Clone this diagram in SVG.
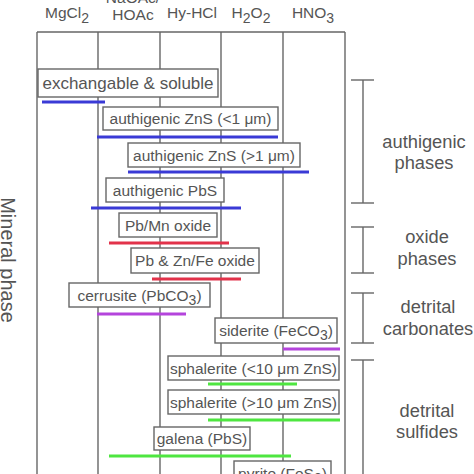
<svg xmlns="http://www.w3.org/2000/svg" width="474" height="474" viewBox="0 0 474 474">
<style>
text{font-family:"Liberation Sans",Arial,sans-serif;fill:#555}
.hd{font-size:15.5px;text-anchor:middle}
.bx rect{fill:#fff;stroke:#666;stroke-width:1.4}
.bx text{font-size:15.5px;text-anchor:middle}
.grid line,.br line{stroke:#666;stroke-width:1.4}
.rl{font-size:18.3px;text-anchor:middle}
.ln line{stroke-width:3}
.b{stroke:#3a3ad6}.r{stroke:#e2324a}.p{stroke:#b444dc}.g{stroke:#4ee640}
</style>
<rect width="474" height="474" fill="#fff"/>
<g id="headers">
<text class="hd" x="133" y="3">NaOAc/</text>
<text class="hd" x="67" y="18">MgCl<tspan font-size="14" dy="5">2</tspan></text>
<text class="hd" x="133" y="20">HOAc</text>
<text class="hd" x="192" y="18">Hy-HCl</text>
<text class="hd" x="251" y="18">H<tspan font-size="14" dy="5">2</tspan><tspan dy="-5">O</tspan><tspan font-size="14" dy="5">2</tspan></text>
<text class="hd" x="313" y="18">HNO<tspan font-size="14" dy="5">3</tspan></text>
</g>
<g id="grid" class="grid">
<line x1="37" y1="32" x2="345" y2="32"/>
<line x1="37" y1="32" x2="37" y2="474"/>
<line x1="98" y1="32" x2="98" y2="474"/>
<line x1="160" y1="32" x2="160" y2="474"/>
<line x1="221" y1="32" x2="221" y2="474"/>
<line x1="283" y1="32" x2="283" y2="474"/>
<line x1="345" y1="32" x2="345" y2="474"/>
</g>
<text id="axis-label" x="1" y="260" font-size="20" text-anchor="middle" transform="rotate(90 1 260)">Mineral phase</text>
<g id="connectors" class="ln">
<line class="b" x1="42" y1="102" x2="105" y2="102"/>
<line class="b" x1="97" y1="137" x2="278" y2="137"/>
<line class="b" x1="128" y1="172" x2="309" y2="172"/>
<line class="b" x1="91" y1="208" x2="241" y2="208"/>
<line class="r" x1="109" y1="243" x2="229" y2="243"/>
<line class="r" x1="152" y1="279" x2="241" y2="279"/>
<line class="p" x1="97" y1="314" x2="186" y2="314"/>
<line class="p" x1="283" y1="349" x2="340" y2="349"/>
<line class="g" x1="208" y1="384" x2="297" y2="384"/>
<line class="g" x1="208" y1="420" x2="340" y2="420"/>
<line class="g" x1="109" y1="456" x2="291" y2="456"/>
</g>
<g id="n-exch" class="bx"><rect x="38" y="69" width="180" height="28"/><text x="128" y="89" font-size="17" style="font-size:17px">exchangable &amp; soluble</text></g>
<g id="n-zns1" class="bx"><rect x="103" y="107" width="175" height="23"/><text x="190.5" y="124">authigenic ZnS (&lt;1 μm)</text></g>
<g id="n-zns2" class="bx"><rect x="128" y="143" width="172" height="24"/><text x="214" y="161">authigenic ZnS (&gt;1 μm)</text></g>
<g id="n-pbs" class="bx"><rect x="106" y="178" width="118" height="24"/><text x="165" y="196">authigenic PbS</text></g>
<g id="n-pbmn" class="bx"><rect x="119" y="213" width="98" height="24"/><text x="168" y="231">Pb/Mn oxide</text></g>
<g id="n-pbznfe" class="bx"><rect x="131" y="248" width="128" height="25"/><text x="195" y="266">Pb &amp; Zn/Fe oxide</text></g>
<g id="n-cer" class="bx"><rect x="69" y="283" width="141" height="24"/><text x="139.5" y="301">cerrusite (PbCO<tspan font-size="14" dy="4">3</tspan><tspan dy="-4">)</tspan></text></g>
<g id="n-sid" class="bx"><rect x="215" y="318" width="122" height="25"/><text x="276" y="336">siderite (FeCO<tspan font-size="14" dy="4">3</tspan><tspan dy="-4">)</tspan></text></g>
<g id="n-sph1" class="bx"><rect x="168" y="356" width="171" height="24"/><text x="253.5" y="374">sphalerite (&lt;10 μm ZnS)</text></g>
<g id="n-sph2" class="bx"><rect x="168" y="390" width="171" height="24"/><text x="253.5" y="408">sphalerite (&gt;10 μm ZnS)</text></g>
<g id="n-gal" class="bx"><rect x="154" y="427" width="96" height="23"/><text x="202" y="444">galena (PbS)</text></g>
<g id="n-pyr" class="bx"><rect x="234" y="461" width="97" height="28"/><text x="282.5" y="479">pyrite (FeS<tspan font-size="14" dy="4">2</tspan><tspan dy="-4">)</tspan></text></g>
<g id="brackets" class="br">
<line x1="363" y1="80" x2="363" y2="203"/><line x1="351" y1="80" x2="374" y2="80"/><line x1="351" y1="203" x2="374" y2="203"/>
<line x1="363" y1="227" x2="363" y2="273"/><line x1="351" y1="227" x2="374" y2="227"/><line x1="351" y1="273" x2="374" y2="273"/>
<line x1="363" y1="293" x2="363" y2="343"/><line x1="351" y1="293" x2="374" y2="293"/><line x1="351" y1="343" x2="374" y2="343"/>
<line x1="363" y1="360" x2="363" y2="474"/><line x1="351" y1="360" x2="374" y2="360"/>
</g>
<g id="group-labels">
<text class="rl" x="424" y="148">authigenic</text><text class="rl" x="424" y="169">phases</text>
<text class="rl" x="427" y="243">oxide</text><text class="rl" x="427" y="265">phases</text>
<text class="rl" x="428" y="313">detrital</text><text class="rl" x="428" y="335">carbonates</text>
<text class="rl" x="427" y="417">detrital</text><text class="rl" x="427" y="438">sulfides</text>
</g>
</svg>
